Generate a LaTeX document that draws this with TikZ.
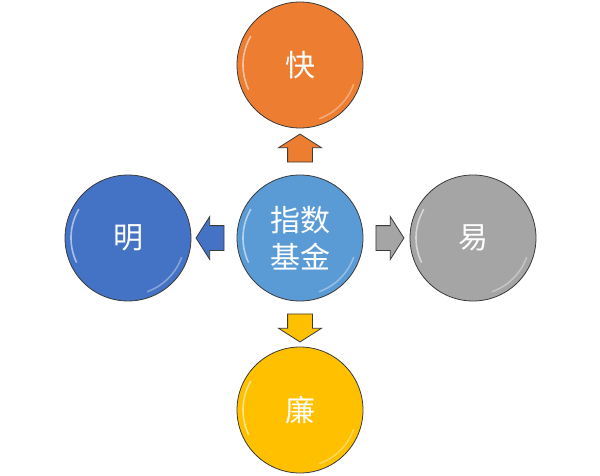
\documentclass[tikz,border=0pt]{standalone}
\usepackage{fontspec}
\newfontfamily\cjk{Noto Sans CJK SC}
\usetikzlibrary{shapes.arrows}

\definecolor{kuai}{HTML}{ED7D31}
\definecolor{zhishu}{HTML}{5B9BD5}
\definecolor{ming}{HTML}{4472C4}
\definecolor{yi}{HTML}{A5A5A5}
\definecolor{lian}{HTML}{FFC000}
\definecolor{rim}{HTML}{3A3A3A}

\begin{document}
\begin{tikzpicture}[x=1pt,y=-1pt,
  ball/.style={circle,draw=rim,line width=0.8pt,minimum size=126pt,inner sep=0pt,
    text=white,font=\cjk\fontsize{30}{37}\selectfont,align=center},
  gloss/.style={white,opacity=0.55,line width=1.6pt,line cap=round},
  blockarrow/.style={single arrow,draw=rim,line width=0.8pt,inner xsep=0pt,inner ysep=12pt,
    minimum height=28pt,single arrow head extend=9pt,
    single arrow tip angle=115}]
  \useasboundingbox (0,0) rectangle (600,476);
  % the five balls
  \node[ball, fill=zhishu] (fund) at (300,238) {指数\\基金};
  \node[ball, fill=kuai] (fast) at (300,65) {快};
  \node[ball, fill=ming] (clear) at (128,238) {明};
  \node[ball, fill=yi] (easy) at (473,238) {易};
  \node[ball, fill=lian] (cheap) at (300,410) {廉};
  % glossy rims
  \foreach \b in {fund,fast,clear,easy,cheap}{
    \draw[gloss] ([shift={(150:57pt)}]\b.center) arc[start angle=150,end angle=205,radius=57pt];
    \draw[gloss,opacity=0.35] ([shift={(-70:57pt)}]\b.center) arc[start angle=-70,end angle=-20,radius=57pt];
  }
  % block arrows between the balls
  \node[blockarrow, fill=kuai, rotate=90] (toFast) at (300,152) {};
  \node[blockarrow, fill=ming, rotate=180] (toClear) at (214,238) {};
  \node[blockarrow, fill=yi] (toEasy) at (386,238) {};
  \node[blockarrow, fill=lian, rotate=270] (toCheap) at (300,324) {};
\end{tikzpicture}
\end{document}
